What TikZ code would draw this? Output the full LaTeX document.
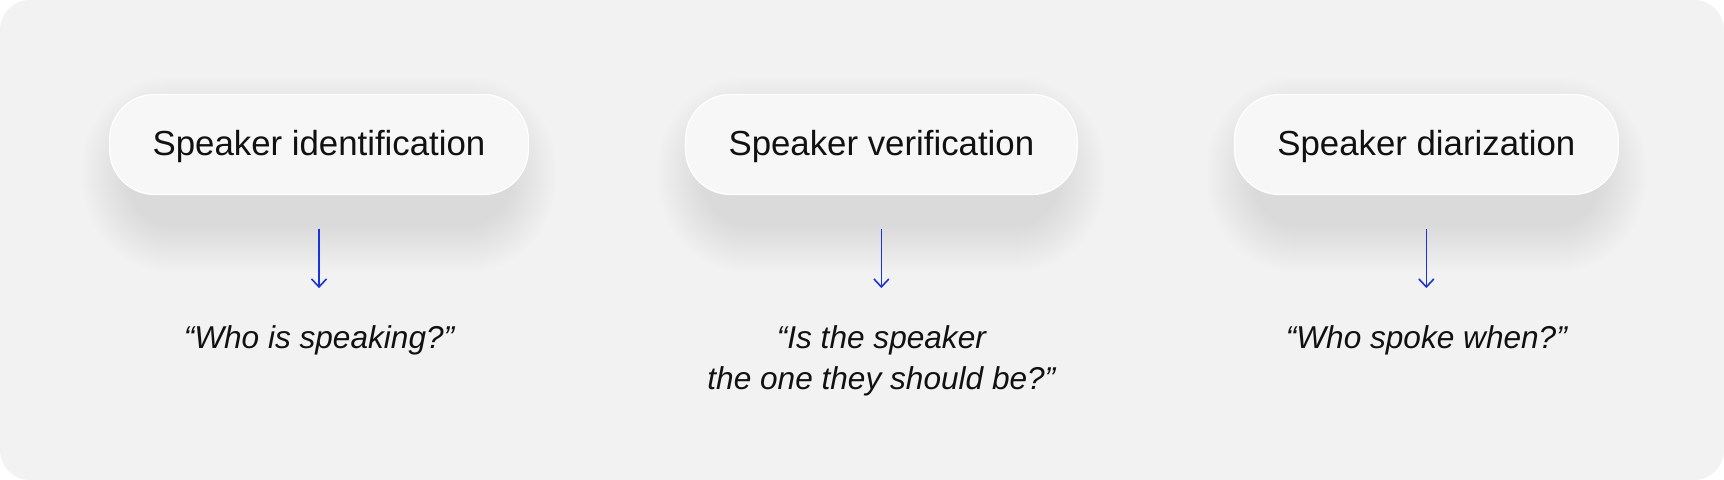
\documentclass[tikz,border=0pt]{standalone}
\usepackage{fontspec}
\setmainfont{Liberation Sans}
\usepackage{tikz}
\usetikzlibrary{positioning,arrows.meta,backgrounds}
\definecolor{canvas}{HTML}{F2F2F2}
\definecolor{boxfill}{HTML}{F7F7F7}
\definecolor{arrowblue}{RGB}{22,52,224}
\definecolor{ink}{HTML}{111111}

\begin{document}
\begin{tikzpicture}[
  task/.style={draw=white, line width=0.6pt, fill=boxfill, rounded corners=22.5pt,
    minimum height=50pt, inner xsep=21.5pt, text=ink,
    text height=12.7pt, text depth=1.2pt,
    font=\fontsize{17.4}{20}\selectfont},
  haze/.style={fill=black, opacity=0.002},
  question/.style={inner sep=0pt, align=center, text=ink,
    font=\itshape\fontsize{15.8}{20.5}\selectfont},
  flow/.style={draw=arrowblue, line width=0.8pt, -{Straight Barb[length=4pt,width=7.5pt]},
    shorten <=17pt, shorten >=18.5pt}]
\useasboundingbox (0,0) rectangle (862pt,-240pt);
% the three tasks
\node [task] (ident) at (159.5pt,-72.25pt) {Speaker identification};
\node [task, right=78pt of ident] (verif) {Speaker verification};
\node [task, right=78pt of verif] (diar) {Speaker diarization};
% what each one asks
\node [question, below=65pt of ident] (qident) {“Who is speaking?”};
\node [question, below=65pt of verif] (qverif) {“Is the speaker\\the one they should be?”};
\node [question, below=65pt of diar] (qdiar) {“Who spoke when?”};
\draw [flow] (ident) -- (qident);
\draw [flow] (verif) -- (qverif);
\draw [flow] (diar) -- (qdiar);
% background and soft shadows
\begin{scope}[on background layer]
\fill [canvas, rounded corners=15pt] (0,0) rectangle (862pt,-240pt);
\foreach \n in {ident,verif,diar}
  \foreach \i [evaluate=\i as \r using \i*1.3] in {1,...,24}
    \fill [haze, rounded corners=22.5pt+\r pt]
      ([shift={(10pt-\r pt,-15pt-\r pt)}]\n.south west) rectangle
      ([shift={(-10pt+\r pt,-15pt+\r pt)}]\n.north east);
\end{scope}
\end{tikzpicture}
\end{document}
